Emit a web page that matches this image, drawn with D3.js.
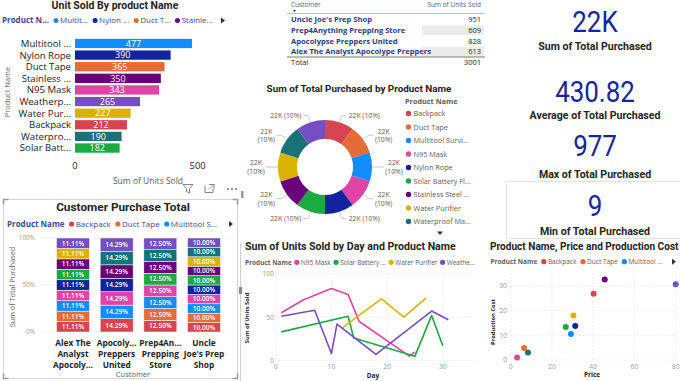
<!DOCTYPE html>
<html><head><meta charset="utf-8">
<script src="https://cdn.jsdelivr.net/npm/d3@7"></script>
<style>
body{margin:0;background:#fff;}
svg{display:block;font-family:"Open Sans","Noto Sans",sans-serif;}
</style></head><body>
<svg id="c" width="680" height="381"></svg>
<script>
// ---------------- DATA ----------------
const products = ["Backpack","Duct Tape","Multitool Survival Kit","N95 Mask","Nylon Rope","Solar Battery Flashlight","Stainless Steel Army Knife","Water Purifier","Waterproof Matches","Weatherproof Tarp"];
const productColors = ["#D64550","#E66C37","#118DFF","#E044A7","#12239E","#1AAB40","#6B007B","#D9B300","#197278","#744EC2"];

// Unit Sold By product Name
const unitsSold = [212,365,477,343,390,182,350,227,190,265];
const barTicks = [0,500];

// table
const tableCustomers = ["Uncle Joe's Prep Shop","Prep4Anything Prepping Store","Apocolypse Preppers United","Alex The Analyst Apocolype Preppers"];
const tableUnits = [951,609,828,613];

// KPI cards
const kpiValues = ["22K","430.82","977","9"];
const kpiLabels = ["Sum of Total Purchased","Average of Total Purchased","Max of Total Purchased","Min of Total Purchased"];

// donut (thousands)
const donutValues = [22,22,22,22,22,22,22,22,22,22];

// Customer Purchase Total (100% stacked)
const stackCustomers = ["Alex The Analyst Apocolype Preppers","Apocolypse Preppers United","Prep4Anything Prepping Store","Uncle Joe's Prep Shop"];
const stackTickLines = [["Alex The","Analyst","Apocoly..."],["Apocoly...","Preppers","United"],["Prep4An...","Prepping","Store"],["Uncle","Joe's Prep","Shop"]];
const stackProducts = [
  ["Backpack","Duct Tape","Multitool Survival Kit","N95 Mask","Nylon Rope","Solar Battery Flashlight","Stainless Steel Army Knife","Water Purifier","Weatherproof Tarp"],
  ["Backpack","Multitool Survival Kit","N95 Mask","Nylon Rope","Stainless Steel Army Knife","Waterproof Matches","Weatherproof Tarp"],
  ["Backpack","Duct Tape","Multitool Survival Kit","N95 Mask","Solar Battery Flashlight","Stainless Steel Army Knife","Waterproof Matches","Weatherproof Tarp"],
  ["Backpack","Duct Tape","Multitool Survival Kit","N95 Mask","Nylon Rope","Solar Battery Flashlight","Stainless Steel Army Knife","Water Purifier","Waterproof Matches","Weatherproof Tarp"]
];
const stackShares = [
  [11.11,11.11,11.11,11.11,11.11,11.11,11.11,11.11,11.11],
  [14.29,14.29,14.29,14.29,14.29,14.29,14.29],
  [12.50,12.50,12.50,12.50,12.50,12.50,12.50,12.50],
  [10.00,10.00,10.00,10.00,10.00,10.00,10.00,10.00,10.00,10.00]
];
const stackTicks = [0,50,100];

// Sum of Units Sold by Day and Product Name
const lineProducts = ["N95 Mask","Solar Battery Flashlight","Water Purifier","Weatherproof Tarp"];
const n95Days = [1,5,10,13,15,24,25];        const n95Units = [55,70,83,76,45,5,10];
const solarDays = [1,13,14,25,28,30];        const solarUnits = [33,51,26,5,52,17];
const waterDays = [12,19,23,27];             const waterUnits = [38,71,50,72];
const weatherDays = [1,7,10,11,18,28,31];    const weatherUnits = [51,58,8,42,7,57,47];
const lineXTicks = [0,10,20,30];
const lineYTicks = [0,50,100];

// Product Name, Price and Production Cost
const prices = [40.2,6.5,29.2,3.1,31.3,26.7,45.6,30.4,8.4,80];
const costs  = [26.9,4.9,10.5,1.0,13.8,13.4,32.6,18.0,3.0,30.7];
const scatterXTicks = [0,20,40,60,80];
const scatterYTicks = [0,10,20,30];

// ---------------- HELPERS ----------------
const svg = d3.select("#c");
const TF = 'Roboto,"Noto Sans",sans-serif';
const color = d3.scaleOrdinal().domain(products).range(productColors);
const DARK = "#252423", GREY = "#605E5C", LGREY = "#9a9a9a", LEGBLUE = "#3b4a9c";

function fitText(t, str, maxW){
  t.text(str); const n = t.node();
  if (n.getComputedTextLength() <= maxW) return;
  let s = str;
  while (s.length > 1){ s = s.slice(0,-1); t.text(s + "..."); if (n.getComputedTextLength() <= maxW) return; }
}
function arrowRight(g,x,y,c){ g.append("path").attr("d",`M${x-2},${y-3}L${x+2},${y}L${x-2},${y+3}Z`).attr("fill",c||"#333"); }
function legend(g,o){
  let x = o.x;
  const tt = g.append("text").attr("x",x).attr("y",o.y).attr("dy","0.35em").attr("font-size",o.size)
    .attr("font-weight",700).attr("fill",o.titleColor);
  fitText(tt,o.title,o.titleMax||999);
  x += tt.node().getComputedTextLength() + o.gap;
  o.items.forEach(name=>{
    g.append("circle").attr("cx",x+o.r).attr("cy",o.y).attr("r",o.r).attr("fill",color(name));
    const tx = x + o.r*2 + 1.5;
    const t = g.append("text").attr("x",tx).attr("y",o.y).attr("dy","0.35em").attr("font-size",o.size).attr("fill",o.textColor);
    fitText(t,name,Math.min(o.maxW,o.limit - tx));
    x = tx + t.node().getComputedTextLength() + o.gap;
  });
  if (o.arrowX) arrowRight(g,o.arrowX,o.y,"#333");
}
function dotted(sel){ return sel.attr("stroke","#dcdcdc").attr("stroke-width",0.8).attr("stroke-dasharray","1,2"); }

// ---------------- 1. BAR CHART ----------------
{
  const g = svg.append("g");
  g.append("text").attr("x",115).attr("y",9).attr("text-anchor","middle").attr("font-family",TF)
    .attr("font-weight",700).attr("font-size",10.5).attr("fill",DARK).text("Unit Sold By product Name");
  const order = d3.range(products.length).sort((a,b)=>unitsSold[b]-unitsSold[a]);
  const names = order.map(i=>products[i]);
  legend(g,{x:2,y:20.5,title:"Product Name",titleMax:47,items:names.slice(0,4),maxW:32,limit:216,gap:4.5,r:2.5,size:8,
    titleColor:LEGBLUE,textColor:LEGBLUE,arrowX:223});
  const x = d3.scaleLinear().domain([0,500]).range([75,197.6]);
  const y = d3.scaleBand().domain(names).range([36.5,155]).padding(0.2);
  order.forEach(i=>{
    const n = products[i];
    g.append("rect").attr("x",x(0)).attr("y",y(n)).attr("width",x(unitsSold[i])-x(0)).attr("height",y.bandwidth()).attr("fill",color(n));
    g.append("text").attr("x",(x(0)+x(unitsSold[i]))/2).attr("y",y(n)+y.bandwidth()/2).attr("dy","0.36em")
      .attr("text-anchor","middle").attr("font-size",9).attr("fill","#fff").text(unitsSold[i]);
    const t = g.append("text").attr("x",71).attr("y",y(n)+y.bandwidth()/2).attr("dy","0.36em")
      .attr("text-anchor","end").attr("font-size",9.6).attr("fill",DARK);
    fitText(t,n,54);
  });
  barTicks.forEach(v=>g.append("text").attr("x",x(v)).attr("y",166).attr("dy","0.35em").attr("text-anchor","middle")
    .attr("font-size",9.3).attr("fill",DARK).text(v));
  g.append("text").attr("x",148).attr("y",181).attr("dy","0.35em").attr("text-anchor","middle")
    .attr("font-size",8.5).attr("fill",GREY).text("Sum of Units Sold");
  g.append("text").attr("transform","translate(7,92) rotate(-90)").attr("dy","0.35em").attr("text-anchor","middle")
    .attr("font-size",7.5).attr("fill",GREY).text("Product Name");
  // header icons
  const ic = svg.append("g").attr("stroke","#777").attr("fill","none").attr("stroke-width",0.9);
  ic.append("path").attr("d","M183,184.5H193L189.5,188.5V193L186.5,191.5V188.5Z");
  ic.append("path").attr("d","M205,185.5V192.5H213V189 M209,184.5H214V189.5 M214,184.5L209.5,189");
  [228,232,236].forEach(cx=>svg.append("circle").attr("cx",cx).attr("cy",189).attr("r",0.9).attr("fill","#666"));
}

// ---------------- 2. TABLE ----------------
{
  const g = svg.append("g");
  const left = 291, right = 481;
  g.append("text").attr("x",left).attr("y",5).attr("dy","0.35em").attr("font-size",6.5).attr("fill",GREY).text("Customer");
  g.append("path").attr("d",`M${left+2},10L${left+5},10L${left+3.5},12Z`).attr("fill","#333");
  g.append("text").attr("x",right).attr("y",5).attr("dy","0.35em").attr("text-anchor","end").attr("font-size",6.5).attr("fill",GREY).text("Sum of Units Sold");
  g.append("line").attr("x1",left-4).attr("x2",right+4).attr("y1",13.5).attr("y2",13.5).attr("stroke","#a9c2d8").attr("stroke-width",1);
  const ry = d3.scaleBand().domain(d3.range(tableCustomers.length)).range([14,57]);
  tableCustomers.forEach((c,i)=>{
    if (i%2===1) g.append("rect").attr("x",422).attr("y",ry(i)+0.5).attr("width",62).attr("height",ry.bandwidth()-1).attr("fill","#ececec");
    const cy = ry(i)+ry.bandwidth()/2;
    g.append("text").attr("x",left).attr("y",cy).attr("dy","0.35em").attr("font-size",7.6).attr("font-weight",700).attr("fill","#2b3b8a").text(c);
    g.append("text").attr("x",right).attr("y",cy).attr("dy","0.35em").attr("text-anchor","end").attr("font-size",7.5).attr("fill",DARK).text(tableUnits[i]);
  });
  g.append("line").attr("x1",left-4).attr("x2",right+4).attr("y1",57).attr("y2",57).attr("stroke","#555").attr("stroke-width",0.8);
  g.append("text").attr("x",left).attr("y",62).attr("dy","0.35em").attr("font-size",7.5).attr("fill",DARK).text("Total");
  g.append("text").attr("x",right).attr("y",62).attr("dy","0.35em").attr("text-anchor","end").attr("font-size",7.5).attr("fill",DARK).text(d3.sum(tableUnits));
}

// ---------------- 3. KPI CARDS ----------------
{
  const g = svg.append("g");
  g.append("rect").attr("x",506.5).attr("y",181.5).attr("width",180).attr("height",57).attr("fill","none").attr("stroke","#e3e3e3");
  const valY = [32,101.5,156,216], labY = [50,119,177.5,234.5];
  kpiValues.forEach((v,i)=>{
    g.append("text").attr("transform",`translate(595,${valY[i]}) scale(0.88,1)`).attr("text-anchor","middle").attr("font-family",TF)
      .attr("font-size",29.5).attr("fill","#17249a").text(v);
    g.append("text").attr("x",595).attr("y",labY[i]).attr("text-anchor","middle").attr("font-family",TF)
      .attr("font-weight",700).attr("font-size",10.6).attr("fill",DARK).text(kpiLabels[i]);
  });
}

// ---------------- 4. DONUT ----------------
{
  const g = svg.append("g");
  g.append("text").attr("x",359).attr("y",92).attr("text-anchor","middle").attr("font-family",TF)
    .attr("font-weight",700).attr("font-size",9.9).attr("fill",DARK).text("Sum of Total Purchased by Product Name");
  const cx = 325, cy = 167, ro = 47, ri = 28;
  const total = d3.sum(donutValues);
  const pie = d3.pie().sort(null).value(d=>d)(donutValues);
  const arc = d3.arc().innerRadius(ri).outerRadius(ro);
  const dg = g.append("g").attr("transform",`translate(${cx},${cy})`);
  pie.forEach((p,i)=>{
    dg.append("path").attr("d",arc(p)).attr("fill",productColors[i]);
    const a = (p.startAngle+p.endAngle)/2, s = Math.sin(a), c = -Math.cos(a);
    const right = s >= 0;
    const x1 = ro*s, y1 = ro*c, x2 = 54*s, y2 = 54*c, x3 = x2 + (right?5:-5);
    dg.append("path").attr("d",`M${x1},${y1}L${x2},${y2}L${x3},${y2}`).attr("fill","none").attr("stroke","#b3b3b3").attr("stroke-width",0.7);
    const lbl = `${donutValues[i]}K`, pct = `(${d3.format(".0%")(donutValues[i]/total)})`;
    const t = dg.append("text").attr("font-size",6.8).attr("fill",GREY);
    if (Math.abs(s) > 0.7){
      const tx = x3 + (right?10:-10);
      t.attr("text-anchor","middle");
      t.append("tspan").attr("x",tx).attr("y",y2-4).attr("dy","0.35em").text(lbl);
      t.append("tspan").attr("x",tx).attr("y",y2+4.5).attr("dy","0.35em").text(pct);
    } else {
      t.attr("x",x3+(right?2:-2)).attr("y",y2).attr("dy","0.35em").attr("text-anchor",right?"start":"end").text(`${lbl} ${pct}`);
    }
  });
  // legend
  g.append("text").attr("x",405).attr("y",101).attr("dy","0.35em").attr("font-size",7.3).attr("font-weight",700).attr("fill",GREY).text("Product Name");
  const ly = d3.scalePoint().domain(products.slice(0,9)).range([113.5,221.5]);
  products.slice(0,9).forEach(n=>{
    g.append("circle").attr("cx",408.5).attr("cy",ly(n)).attr("r",2.7).attr("fill",color(n));
    const t = g.append("text").attr("x",413.5).attr("y",ly(n)).attr("dy","0.35em").attr("font-size",7.3).attr("fill",GREY);
    fitText(t,n,58);
  });
  g.append("path").attr("d","M437,231.5L443,231.5L440,235Z").attr("fill","#333");
  g.append("rect").attr("x",241).attr("y",191).attr("width",2.5).attr("height",7).attr("fill","#999");
}

// ---------------- 5. CUSTOMER PURCHASE TOTAL ----------------
{
  const g = svg.append("g");
  g.append("rect").attr("x",3.5).attr("y",199.5).attr("width",234).attr("height",179).attr("fill","none").attr("stroke","#d6d6d6");
  const br = "#9a9a9a", L = 5;
  [[3.5,199.5,1,1],[237.5,199.5,-1,1],[3.5,378.5,1,-1],[237.5,378.5,-1,-1]].forEach(([x,y,dx,dy])=>{
    g.append("path").attr("d",`M${x+dx*L},${y}L${x},${y}L${x},${y+dy*L}`).attr("fill","none").attr("stroke",br).attr("stroke-width",1.6);
  });
  g.append("text").attr("x",123).attr("y",211).attr("text-anchor","middle").attr("font-family",TF)
    .attr("font-weight",700).attr("font-size",11.8).attr("fill",DARK).text("Customer Purchase Total");
  legend(g,{x:7,y:224,title:"Product Name",items:["Backpack","Duct Tape","Multitool Survival Kit"],maxW:66,limit:222,gap:4.5,r:2.6,size:8,
    titleColor:LEGBLUE,textColor:LEGBLUE,arrowX:231});
  const x = d3.scaleBand().domain(stackCustomers).range([56.5,220.5]).paddingInner(0.245).paddingOuter(0);
  const y = d3.scaleLinear().domain([0,100]).range([332,238]);
  stackTicks.forEach(v=>{
    dotted(g.append("line").attr("x1",40).attr("x2",228).attr("y1",y(v)).attr("y2",y(v)));
    g.append("text").attr("x",35).attr("y",y(v)).attr("dy","0.35em").attr("text-anchor","end").attr("font-size",6.5).attr("fill",LGREY).text(v+"%");
  });
  stackCustomers.forEach((c,ci)=>{
    let acc = 0;
    stackProducts[ci].forEach((p,pi)=>{
      const v = stackShares[ci][pi];
      const y0 = y(acc), y1 = y(acc+v);
      g.append("rect").attr("x",x(c)).attr("y",y1).attr("width",x.bandwidth()).attr("height",y0-y1)
        .attr("fill",color(p)).attr("stroke","#fff").attr("stroke-width",0.5);
      g.append("text").attr("x",x(c)+x.bandwidth()/2).attr("y",(y0+y1)/2).attr("dy","0.35em").attr("text-anchor","middle")
        .attr("font-size",6.6).attr("font-weight",600).attr("fill","#fff").text(d3.format(".2f")(v)+"%");
      acc += v;
    });
    stackTickLines[ci].forEach((ln,li)=>{
      g.append("text").attr("x",x(c)+x.bandwidth()/2).attr("y",343+li*11).attr("dy","0.35em").attr("text-anchor","middle")
        .attr("font-size",8.3).attr("font-weight",700).attr("fill",DARK).text(ln);
    });
  });
  g.append("text").attr("x",133).attr("y",374).attr("dy","0.35em").attr("text-anchor","middle").attr("font-size",7.5).attr("fill",GREY).text("Customer");
  g.append("text").attr("transform","translate(12,287) rotate(-90)").attr("dy","0.35em").attr("text-anchor","middle")
    .attr("font-size",7.3).attr("fill",GREY).text("Sum of Total Purchased");
}

// ---------------- 6. LINE CHART ----------------
{
  const g = svg.append("g");
  g.append("line").attr("x1",240.5).attr("x2",240.5).attr("y1",243).attr("y2",381).attr("stroke","#d0d0d0");
  g.append("rect").attr("x",239).attr("y",287).attr("width",3).attr("height",7).attr("fill","#888");
  g.append("text").attr("x",245).attr("y",250).attr("font-family",TF).attr("font-weight",700).attr("font-size",10.6).attr("fill",DARK)
    .text("Sum of Units Sold by Day and Product Name");
  legend(g,{x:245,y:262.3,title:"Product Name",items:lineProducts,maxW:48,limit:476,gap:2.5,r:2.6,size:6.5,titleColor:GREY,textColor:GREY});
  const x = d3.scaleLinear().domain([0,36]).range([275.7,476.2]);
  const y = d3.scaleLinear().domain([0,100]).range([360.5,273.8]);
  lineXTicks.forEach(v=>{
    dotted(g.append("line").attr("x1",x(v)).attr("x2",x(v)).attr("y1",y(100)).attr("y2",y(0)));
    g.append("text").attr("x",x(v)).attr("y",367).attr("dy","0.35em").attr("text-anchor","middle").attr("font-size",6.8).attr("fill",LGREY).text(v);
  });
  lineYTicks.forEach(v=>{
    dotted(g.append("line").attr("x1",x(0)).attr("x2",x(36)).attr("y1",y(v)).attr("y2",y(v)));
    g.append("text").attr("x",274).attr("y",y(v)).attr("dy","0.35em").attr("text-anchor","end").attr("font-size",6.8).attr("fill",LGREY).text(v);
  });
  const series = [[n95Days,n95Units],[solarDays,solarUnits],[waterDays,waterUnits],[weatherDays,weatherUnits]];
  const line = d3.line().x(d=>x(d[0])).y(d=>y(d[1]));
  series.forEach(([ds,us],si)=>{
    g.append("path").attr("d",line(ds.map((d,i)=>[d,us[i]]))).attr("fill","none").attr("stroke",color(lineProducts[si]))
      .attr("stroke-width",1.6).attr("stroke-linejoin","round");
  });
  g.append("text").attr("x",373).attr("y",376).attr("dy","0.35em").attr("text-anchor","middle").attr("font-size",6.5).attr("font-weight",700).attr("fill",DARK).text("Day");
  g.append("text").attr("transform","translate(247,318) rotate(-90)").attr("dy","0.35em").attr("text-anchor","middle")
    .attr("font-size",5.8).attr("font-weight",700).attr("fill",DARK).text("Sum of Units Sold");
}

// ---------------- 7. SCATTER ----------------
{
  const g = svg.append("g");
  svg.append("clipPath").attr("id","sc").append("rect").attr("x",500).attr("y",265).attr("width",179).attr("height",100);
  g.append("text").attr("x",490).attr("y",250).attr("font-family",TF).attr("font-weight",700).attr("font-size",10.1).attr("fill",DARK)
    .text("Product Name, Price and Production Cost");
  legend(g,{x:490.5,y:261.7,title:"Product Name",items:["Backpack","Duct Tape","Multitool Survival Kit"],maxW:50,limit:665,gap:4,r:2.6,size:6.5,
    titleColor:GREY,textColor:GREY,arrowX:674});
  const x = d3.scaleLinear().domain([0,80]).range([510.7,675.7]);
  const y = d3.scaleLinear().domain([0,36]).range([360,271.2]);
  scatterXTicks.forEach(v=>{
    dotted(g.append("line").attr("x1",x(v)).attr("x2",x(v)).attr("y1",y(36)).attr("y2",y(0)));
    g.append("text").attr("x",x(v)).attr("y",367).attr("dy","0.35em").attr("text-anchor","middle").attr("font-size",6.8).attr("fill",LGREY).text(v);
  });
  scatterYTicks.forEach(v=>{
    dotted(g.append("line").attr("x1",x(0)).attr("x2",x(80)).attr("y1",y(v)).attr("y2",y(v)));
    g.append("text").attr("x",507).attr("y",y(v)).attr("dy","0.35em").attr("text-anchor","end").attr("font-size",6.8).attr("fill",LGREY).text(v);
  });
  const dots = g.append("g").attr("clip-path","url(#sc)");
  products.forEach((p,i)=>{
    dots.append("circle").attr("cx",x(prices[i])).attr("cy",y(costs[i])).attr("r",3).attr("fill",color(p));
  });
  g.append("text").attr("x",592).attr("y",375).attr("dy","0.35em").attr("text-anchor","middle").attr("font-size",6.5).attr("font-weight",700).attr("fill",DARK).text("Price");
  g.append("text").attr("transform","translate(493,322) rotate(-90)").attr("dy","0.35em").attr("text-anchor","middle")
    .attr("font-size",5.8).attr("font-weight",700).attr("fill",DARK).text("Production Cost");
}
</script>
</body></html>
